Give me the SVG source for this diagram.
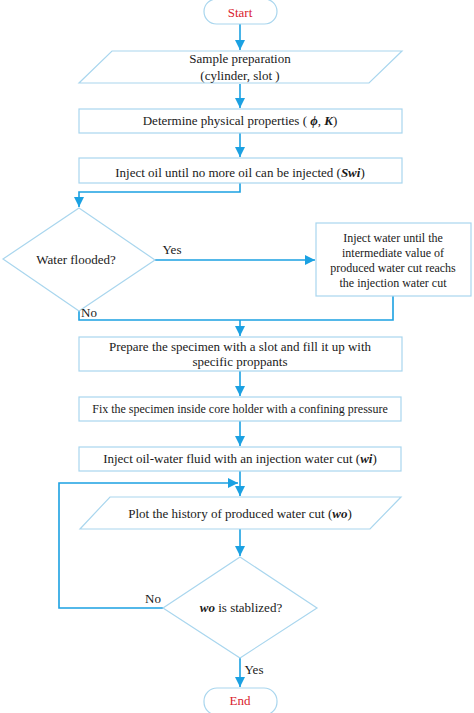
<svg xmlns="http://www.w3.org/2000/svg" width="474" height="713" viewBox="0 0 474 713">
<defs>
<marker id="arr" viewBox="0 0 10 10" refX="10" refY="5" markerWidth="10" markerHeight="10" markerUnits="userSpaceOnUse" orient="auto">
<path d="M0,0 L10,5 L0,10 z" fill="#1ba1e2"/>
</marker>
<style>
.shape{fill:#ffffff;stroke:#a9d6ee;stroke-width:1.2}
.t{font-family:"Liberation Serif","Times New Roman",serif;font-size:13px;fill:#1a1a1a;text-anchor:middle}
.s{font-size:12px}
.red{fill:#d9232e}
.bi{font-weight:bold;font-style:italic}
.c{fill:none;stroke:#1ba1e2;stroke-width:1.6}
</style>
</defs>
<rect width="474" height="713" fill="#ffffff"/>
<g id="connectors">
<path class="c" d="M240,24 V50" marker-end="url(#arr)"/>
<path class="c" d="M240,84 V108" marker-end="url(#arr)"/>
<path class="c" d="M240,133 V157" marker-end="url(#arr)"/>
<path class="c" d="M240,183 V192 H79 V207" marker-end="url(#arr)"/>
<path class="c" d="M155,260 H315" marker-end="url(#arr)"/>
<path class="c" d="M79,311 V320 H393 V296"/>
<path class="c" d="M240,320 V336" marker-end="url(#arr)"/>
<path class="c" d="M240,371 V396" marker-end="url(#arr)"/>
<path class="c" d="M240,421 V446" marker-end="url(#arr)"/>
<path class="c" d="M240,471 V496" marker-end="url(#arr)"/>
<path class="c" d="M163,608 H59 V483 H238" marker-end="url(#arr)"/>
<path class="c" d="M240,529 V556" marker-end="url(#arr)"/>
<path class="c" d="M240,658 V687" marker-end="url(#arr)"/>
</g>
<g id="start">
<rect class="shape" x="204" y="-1" width="73" height="25" rx="12.5"/>
<text class="t red" x="240" y="17">Start</text>
</g>
<g id="sample">
<polygon class="shape" points="112,51 402,51 369,83 79,83"/>
<text class="t" x="240" y="63">Sample preparation</text>
<text class="t" x="240" y="80">(cylinder, slot )</text>
</g>
<g id="determine">
<rect class="shape" x="79" y="109" width="323" height="24"/>
<text class="t" x="240" y="125">Determine physical properties ( <tspan class="bi">ϕ</tspan>, <tspan class="bi">K</tspan>)</text>
</g>
<g id="injectoil">
<rect class="shape" x="79" y="158" width="323" height="25"/>
<text class="t" x="240" y="177">Inject oil until no more oil can be injected (<tspan class="bi">Swi</tspan>)</text>
</g>
<g id="flooded">
<polygon class="shape" points="79,208 155,260 79,311 3,259"/>
<text class="t" x="76" y="264">Water flooded?</text>
</g>
<text class="t" x="172" y="254">Yes</text>
<text class="t" x="89" y="317">No</text>
<g id="injectwater">
<rect class="shape" x="316" y="223" width="155" height="73"/>
<text class="t s" x="393" y="242">Inject water until the</text>
<text class="t s" x="393" y="257">intermediate value of</text>
<text class="t s" x="393" y="272">produced water cut reachs</text>
<text class="t s" x="393" y="287">the injection water cut</text>
</g>
<g id="prepare">
<rect class="shape" x="79" y="337" width="323" height="34"/>
<text class="t" x="240" y="351">Prepare the specimen with a slot and fill it up with</text>
<text class="t" x="240" y="366">specific proppants</text>
</g>
<g id="fix">
<rect class="shape" x="79" y="397" width="322" height="24"/>
<text class="t s" x="240" y="413">Fix the specimen inside core holder with a confining pressure</text>
</g>
<g id="injectfluid">
<rect class="shape" x="79" y="447" width="322" height="24"/>
<text class="t" x="240" y="463">Inject oil-water fluid with an injection water cut (<tspan class="bi">wi</tspan>)</text>
</g>
<g id="plot">
<polygon class="shape" points="110,497 401,497 370,529 80,529"/>
<text class="t" x="240" y="518">Plot the history of produced water cut (<tspan class="bi">wo</tspan>)</text>
</g>
<g id="stabilized">
<polygon class="shape" points="240,557 317,608 240,658 163,608"/>
<text class="t" x="241" y="612"><tspan class="bi">wo</tspan> is stablized?</text>
</g>
<text class="t" x="153" y="603">No</text>
<text class="t" x="254" y="674">Yes</text>
<g id="end">
<rect class="shape" x="204" y="688" width="73" height="27" rx="13"/>
<text class="t red" x="240" y="705">End</text>
</g>
</svg>
